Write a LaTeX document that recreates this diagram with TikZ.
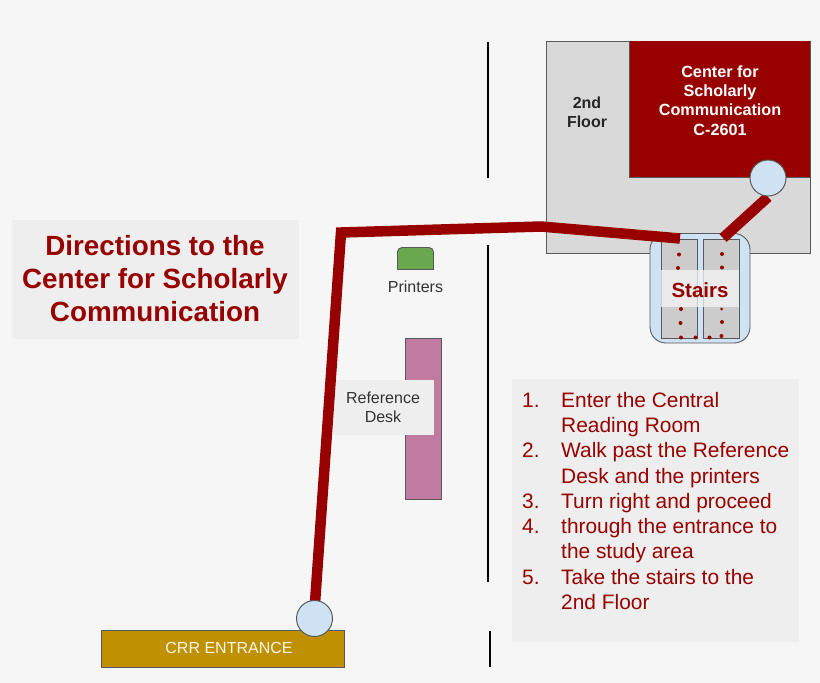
\documentclass[tikz,border=0pt]{standalone}
\usepackage{fontspec}
\setmainfont{Liberation Sans}
\definecolor{bgc}{HTML}{F6F6F6}
\definecolor{panel}{HTML}{EEEEEE}
\definecolor{dred}{HTML}{980000}
\definecolor{lblue}{HTML}{CFE2F3}
\definecolor{lgray}{HTML}{D9D9D9}
\definecolor{mgray}{HTML}{CCCCCC}
\definecolor{gold}{HTML}{BF9000}
\definecolor{pgreen}{HTML}{6AA84F}
\definecolor{pink}{HTML}{C27BA0}
\definecolor{edge}{HTML}{595959}
\definecolor{txt}{HTML}{333333}
\tikzset{
 x=1pt,y=-1pt,
 wall/.style={line width=2.2pt,black},
 route/.style={line width=10.5pt,dred,line join=miter},
 box/.style={draw=edge,line width=0.9pt},
 spot/.style={circle,draw=edge,line width=1pt,fill=lblue,minimum size=36pt,inner sep=0pt},
 panelbox/.style={fill=panel,draw=none,inner sep=0pt},
 dot/.style={fill=dred,draw=none,circle,minimum size=4pt,inner sep=0pt},
 lbl/.style={align=center,inner sep=0pt,font=\fontsize{16}{19}\selectfont,text=txt},
}
\begin{document}
\begin{tikzpicture}
\useasboundingbox (0,0) rectangle (820,683);
\fill[bgc] (0,0) rectangle (820,683);
% walls
\draw[wall] (488,42) -- (488,178);
\draw[wall] (488,245) -- (488,582);
\draw[wall] (490,631) -- (490,667);
% upper floor
\draw[box,fill=lgray] (546.5,41) rectangle (810,253);
\fill[dred] (629,41) rectangle (810,177);
\draw[edge,line width=0.6pt] (629,41) -- (629,177) -- (810,177);
\node[align=center,inner sep=0pt,font=\bfseries\fontsize{16}{19.5}\selectfont,text=black!85] (floor) at (587,112.5) {2nd\\Floor};
\node[align=center,inner sep=0pt,font=\bfseries\fontsize{16.2}{19.2}\selectfont,text=white] (csc) at (720,100.5) {Center for\\Scholarly\\Communication\\C-2601};
% title panel
\node[panelbox,minimum width=287pt,minimum height=119pt,align=center,text=dred,font=\bfseries\fontsize{27.8}{33}\selectfont] (title) at (155,279) {Directions to the\\Center for Scholarly\\Communication};
% stairs
\draw[box,fill=lblue,rounded corners=16pt] (650,233.5) rectangle (750,343);
\draw[box,fill=mgray] (661.5,239) rectangle (697.5,338);
\draw[box,fill=mgray] (703.5,239) rectangle (739.5,338);
\node[dot] (d1) at (679,254.5) {};
\node[dot] (d2) at (678,268) {};
\node[dot] (d3) at (681,309) {};
\node[dot] (d4) at (680.5,323) {};
\node[dot] (d5) at (681,337.5) {};
\node[dot] (d6) at (695.5,337.5) {};
\node[dot] (d7) at (709.5,337.5) {};
\node[dot] (d8) at (721.5,336) {};
\node[dot] (d9) at (722,322) {};
\node[dot,minimum size=3pt] (d10) at (721.5,309) {};
\node[dot] (d11) at (722,267.5) {};
\node[dot] (d12) at (722,254) {};
\fill[bgc,fill opacity=.75] (661,269.5) rectangle (739,307);
\node[inner sep=0pt,text=dred,font=\bfseries\fontsize{20.5}{22}\selectfont] (stairs) at (700,290) {Stairs};
% printers
\draw[box,fill=pgreen] (397.5,269.5) -- (397.5,252) arc[start angle=180,end angle=90,radius=4.5pt] -- (429,247.5) arc[start angle=90,end angle=0,radius=4.5pt] -- (433.5,269.5) -- cycle;
\node[lbl] (printers) at (415.5,286.5) {Printers};
% reference desk
\draw[box,fill=pink] (405,338) rectangle (441,499.5);
\node[fill=panel,minimum width=102pt,minimum height=55pt,inner sep=0pt,lbl] (desk) at (383,407.5) {Reference\\Desk};
% entrance
\draw[edge,line width=0.8pt,fill=gold] (101,630) rectangle (344,667);
\node[inner sep=0pt,text=white!92!gold,font=\fontsize{16}{19}\selectfont] (crr) at (229,647.5) {CRR ENTRANCE};
% route
\coordinate (a) at (315,603);
\coordinate (b) at (341,232.5);
\coordinate (c) at (541,226.5);
\coordinate (e) at (680,238.5);
\coordinate (f) at (723,238);
\coordinate (g) at (768,197);
\draw[route] (a) -- (b) -- (c) -- (e);
\draw[route] (f) -- (g);
\node[spot] (s1) at (314.5,618.5) {};
\node[spot] (s2) at (768,178) {};
% directions
\node[panelbox,anchor=north west,minimum width=287pt,minimum height=263pt] (dpanel) at (512,379) {};
\node[anchor=north west,inner sep=0pt,text=dred,font=\fontsize{20.9}{25.25}\selectfont,align=left] (nums) at (522,392) {\vphantom{h}1.\\\\2.\\\\3.\\4.\\\\5.};
\node[anchor=north west,inner sep=0pt,text=dred,font=\fontsize{20.9}{25.25}\selectfont,align=left] (steps) at (561,392) {Enter the Central\\Reading Room\\Walk past the Reference\\Desk and the printers\\Turn right and proceed\\through the entrance to\\the study area\\Take the stairs to the\\2nd Floor};
\end{tikzpicture}
\end{document}
